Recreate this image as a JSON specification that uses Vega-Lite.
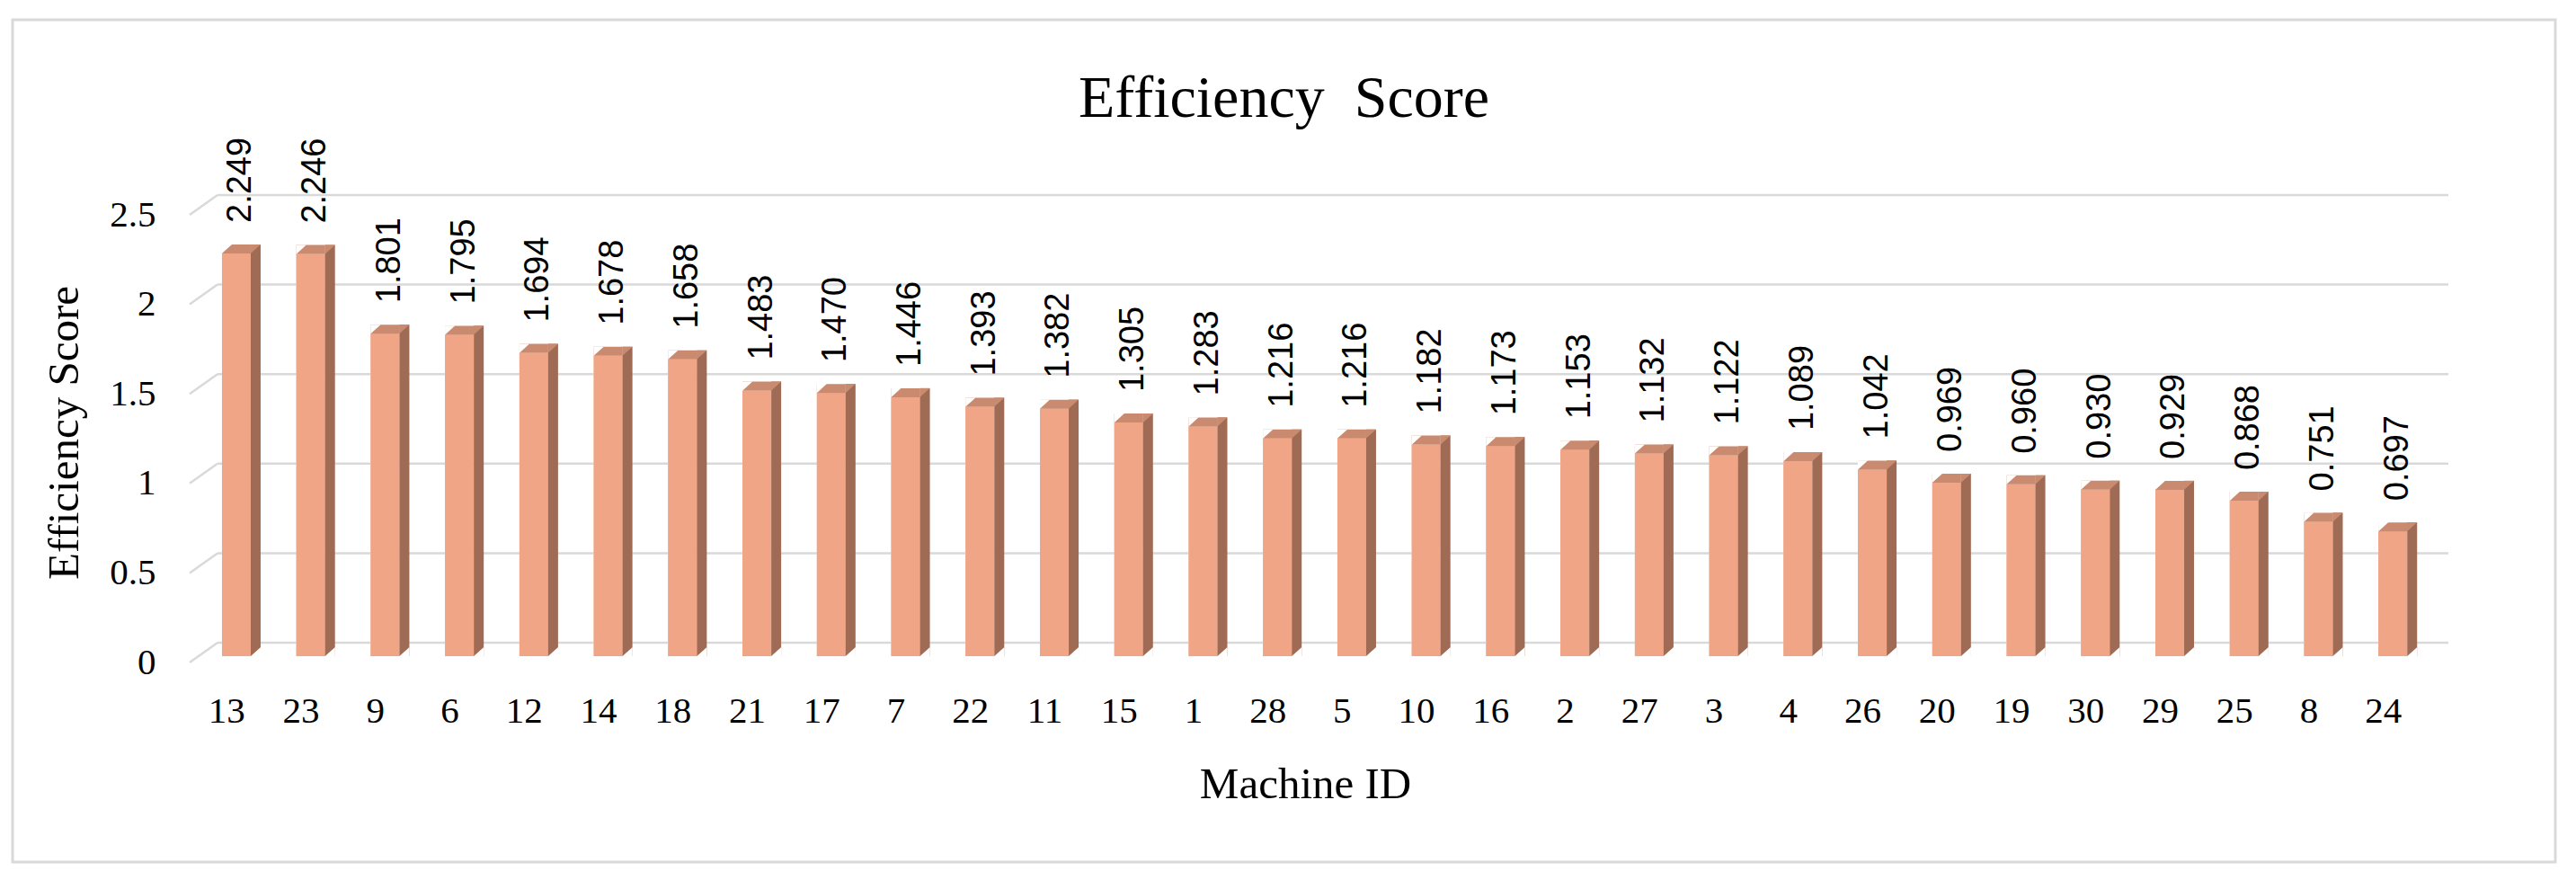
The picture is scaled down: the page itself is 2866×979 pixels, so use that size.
{
  "$schema": "https://vega.github.io/schema/vega-lite/v6.json",
  "width": 2829,
  "height": 937,
  "autosize": {"type": "none"},
  "padding": {"left": 14, "top": 22, "right": 23, "bottom": 20},
  "background": "white",
  "title": {
    "text": "Efficiency\u00a0 Score",
    "anchor": "middle",
    "frame": "group",
    "offset": -122,
    "font": "Liberation Serif",
    "fontSize": 66,
    "fontWeight": "normal",
    "color": "#000000"
  },
  "datasets": {
    "scores": [
      {"id": "13", "score": 2.249},
      {"id": "23", "score": 2.246},
      {"id": "9", "score": 1.801},
      {"id": "6", "score": 1.795},
      {"id": "12", "score": 1.694},
      {"id": "14", "score": 1.678},
      {"id": "18", "score": 1.658},
      {"id": "21", "score": 1.483},
      {"id": "17", "score": 1.470},
      {"id": "7", "score": 1.446},
      {"id": "22", "score": 1.393},
      {"id": "11", "score": 1.382},
      {"id": "15", "score": 1.305},
      {"id": "1", "score": 1.283},
      {"id": "28", "score": 1.216},
      {"id": "5", "score": 1.216},
      {"id": "10", "score": 1.182},
      {"id": "16", "score": 1.173},
      {"id": "2", "score": 1.153},
      {"id": "27", "score": 1.132},
      {"id": "3", "score": 1.122},
      {"id": "4", "score": 1.089},
      {"id": "26", "score": 1.042},
      {"id": "20", "score": 0.969},
      {"id": "19", "score": 0.960},
      {"id": "30", "score": 0.930},
      {"id": "29", "score": 0.929},
      {"id": "25", "score": 0.868},
      {"id": "8", "score": 0.751},
      {"id": "24", "score": 0.697}
    ],
    "grid": [
      {"v": 0}, {"v": 0.5}, {"v": 1}, {"v": 1.5}, {"v": 2}, {"v": 2.5}
    ]
  },
  "layer": [
    {
      "data": {"name": "scores"},
      "mark": {"type": "bar", "color": "#F0A586", "width": 32, "xOffset": 10.6},
      "encoding": {
        "x": {
          "field": "id",
          "type": "nominal",
          "scale": {"type": "band", "domain": ["13","23","9","6","12","14","18","21","17","7","22","11","15","1","28","5","10","16","2","27","3","4","26","20","19","30","29","25","8","24"], "range": [197, 2679], "paddingInner": 0, "paddingOuter": 0},
          "axis": {
            "title": "Machine ID",
            "orient": "bottom",
            "offset": -188,
            "labelPadding": 0,
            "labelAngle": 0,
            "ticks": false,
            "domain": false,
            "grid": false,
            "labelFont": "Liberation Serif",
            "labelFontSize": 41,
            "labelColor": "#000000",
            "titleFont": "Liberation Serif",
            "titleFontSize": 49,
            "titleFontWeight": "normal",
            "titleColor": "#000000",
            "titlePadding": 37
          }
        },
        "y": {
          "field": "score",
          "type": "quantitative",
          "scale": {"domain": [0, 2.5], "range": [708, 210], "nice": false, "zero": true},
          "axis": {
            "title": "Efficiency Score",
            "orient": "left",
            "offset": -159,
            "labelPadding": 0,
            "values": [0, 0.5, 1, 1.5, 2, 2.5],
            "format": "~g",
            "labelOffset": 7,
            "ticks": false,
            "domain": false,
            "grid": false,
            "labelFont": "Liberation Serif",
            "labelFontSize": 41,
            "labelColor": "#000000",
            "titleFont": "Liberation Serif",
            "titleFontSize": 49,
            "titleFontWeight": "normal",
            "titleColor": "#000000",
            "titlePadding": 25
          }
        },
        "y2": {"datum": 0}
      }
    },
    {
      "data": {"name": "grid"},
      "mark": {"type": "rule", "color": "#D9D9D9", "strokeWidth": 2.5, "xOffset": 31, "x2Offset": 31, "yOffset": -15},
      "encoding": {
        "x": {"datum": "13", "type": "nominal", "bandPosition": 0},
        "x2": {"datum": "24", "bandPosition": 1},
        "y": {"field": "v", "type": "quantitative"}
      }
    },
    {
      "data": {"name": "grid"},
      "mark": {"type": "rule", "color": "#D9D9D9", "strokeWidth": 2.5, "x2Offset": 31, "yOffset": 7, "y2Offset": -15},
      "encoding": {
        "x": {"datum": "13", "type": "nominal", "bandPosition": 0},
        "x2": {"datum": "13", "bandPosition": 0},
        "y": {"field": "v", "type": "quantitative"},
        "y2": {"field": "v"}
      }
    },
    {
      "data": {"name": "scores"},
      "mark": {"type": "bar", "color": "#F0A586", "width": 32, "xOffset": 10.6},
      "encoding": {
        "x": {"field": "id", "type": "nominal"},
        "y": {"field": "score", "type": "quantitative"},
        "y2": {"datum": 0}
      }
    },
    {
      "data": {"name": "scores"},
      "mark": {"type": "bar", "color": "#9F6B55", "width": 11, "xOffset": 32.1, "yOffset": -10},
      "encoding": {
        "x": {"field": "id", "type": "nominal"},
        "y": {"field": "score", "type": "quantitative"},
        "y2": {"datum": 0}
      }
    },
    {
      "data": {"name": "scores"},
      "mark": {"type": "bar", "color": "#C98A6F", "width": 32, "xOffset": 10.6, "yOffset": -10},
      "encoding": {
        "x": {"field": "id", "type": "nominal"},
        "y": {"field": "score", "type": "quantitative"},
        "y2": {"field": "score"}
      }
    },
    {
      "data": {"name": "scores"},
      "mark": {"type": "point", "shape": "M-1,-0.91L1,-0.91L-1,0.91Z", "size": 125, "filled": true, "opacity": 1, "strokeWidth": 0, "color": "#FFFFFF", "xOffset": 0.1, "yOffset": -5},
      "encoding": {
        "x": {"field": "id", "type": "nominal"},
        "y": {"field": "score", "type": "quantitative"}
      }
    },
    {
      "data": {"name": "scores"},
      "mark": {"type": "point", "shape": "M-1,-0.91L1,-0.91L-1,0.91Z", "size": 125, "filled": true, "opacity": 1, "strokeWidth": 0, "color": "#C98A6F", "xOffset": 32.1, "yOffset": -5},
      "encoding": {
        "x": {"field": "id", "type": "nominal"},
        "y": {"field": "score", "type": "quantitative"}
      }
    },
    {
      "data": {"name": "scores"},
      "mark": {"type": "point", "shape": "M-1,0.91L1,0.91L1,-0.91Z", "size": 125, "filled": true, "opacity": 1, "strokeWidth": 0, "color": "#FFFFFF", "xOffset": 32.1, "yOffset": -5},
      "encoding": {
        "x": {"field": "id", "type": "nominal"},
        "y": {"datum": 0, "type": "quantitative"}
      }
    },
    {
      "data": {"name": "scores"},
      "mark": {"type": "text", "angle": 270, "align": "left", "baseline": "middle", "xOffset": 16, "yOffset": -34, "font": "Liberation Sans", "fontSize": 38, "color": "#000000"},
      "encoding": {
        "x": {"field": "id", "type": "nominal"},
        "y": {"field": "score", "type": "quantitative"},
        "text": {"field": "score", "type": "quantitative", "format": ".3f"}
      }
    }
  ],
  "config": {
    "view": {"stroke": "#D9D9D9", "strokeWidth": 3}
  }
}
